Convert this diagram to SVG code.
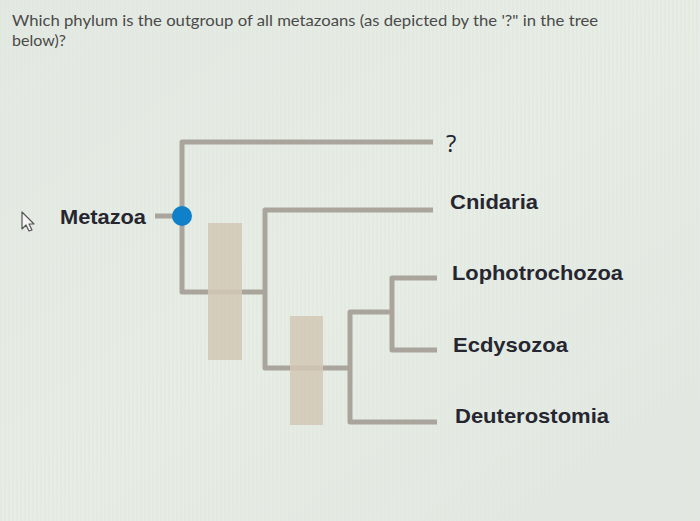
<svg xmlns="http://www.w3.org/2000/svg" width="700" height="521" viewBox="0 0 700 521">
<defs>
<linearGradient id="bg" x1="0" y1="0" x2="1" y2="1">
<stop offset="0" stop-color="#e4e8e4"/>
<stop offset="0.5" stop-color="#e9ede8"/>
<stop offset="1" stop-color="#e2e6e2"/>
</linearGradient>
<pattern id="stripes" width="4" height="4" patternUnits="userSpaceOnUse">
<rect width="2" height="4" fill="#dfe9dc" opacity="0.6"/>
</pattern>
<style>
.q{font-family:Lato,"Liberation Sans",sans-serif;font-size:16px;fill:#4a4a4a}
.lbl{font-family:"Liberation Sans",Arial,sans-serif;font-weight:bold;font-size:21px;fill:#262630}
.br{fill:none;stroke:#aaa59c;stroke-width:5;stroke-linejoin:round}
.bar{fill:#d2c8b4;opacity:0.85}
</style>
</defs>
<rect width="700" height="521" fill="url(#bg)"/>
<rect width="700" height="521" fill="url(#stripes)"/>
<g id="question">
<text class="q" x="12" y="26" textLength="586" lengthAdjust="spacingAndGlyphs">Which phylum is the outgroup of all metazoans (as depicted by the '?" in the tree</text>
<text class="q" x="12" y="46">below)?</text>
</g>
<g id="connectors">
<path class="br" d="M155,216 H182"/>
<path class="br" d="M433,142 H182 V292 H265"/>
<path class="br" d="M433,210 H265 V368 H350"/>
<path class="br" d="M437,422 H350 V312 H392"/>
<path class="br" d="M437,278 H392 V350 H437"/>
</g>
<g id="bars">
<rect class="bar" x="208" y="223" width="34" height="137"/>
<rect class="bar" x="290" y="316" width="33" height="109"/>
</g>
<g id="cursor">
<path d="M22,212 L22,229 L26,225 L29,231 L32,230 L29,224 L34,224 Z" fill="#f4f4f4" stroke="#555" stroke-width="1.2" stroke-linejoin="round"/>
</g>
<g id="node-metazoa">
<text class="lbl" x="60" y="224" textLength="86" lengthAdjust="spacingAndGlyphs">Metazoa</text>
<circle cx="182" cy="216" r="10" fill="#1080c8"/>
</g>
<g id="node-unknown"><text x="446" y="152" font-family="'Open Sans','Liberation Sans',sans-serif" font-size="24" fill="#262630">?</text></g>
<g id="node-cnidaria"><text class="lbl" x="450" y="209" textLength="88" lengthAdjust="spacingAndGlyphs">Cnidaria</text></g>
<g id="node-lophotrochozoa"><text class="lbl" x="452" y="280" textLength="171" lengthAdjust="spacingAndGlyphs">Lophotrochozoa</text></g>
<g id="node-ecdysozoa"><text class="lbl" x="453" y="352" textLength="115" lengthAdjust="spacingAndGlyphs">Ecdysozoa</text></g>
<g id="node-deuterostomia"><text class="lbl" x="455" y="423" textLength="154" lengthAdjust="spacingAndGlyphs">Deuterostomia</text></g>
</svg>
